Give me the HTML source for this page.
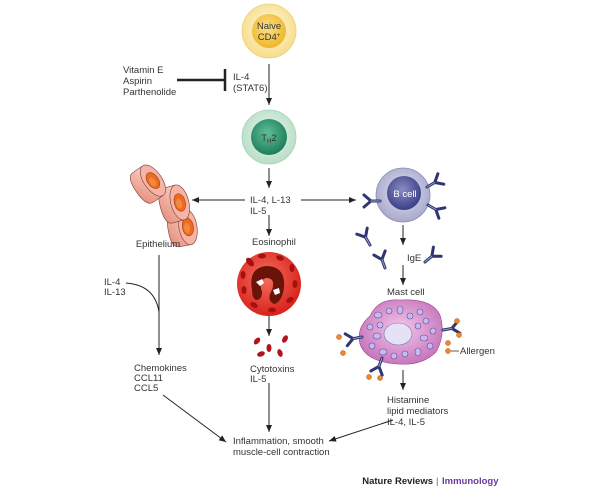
<!DOCTYPE html>
<html><head><meta charset="utf-8"><style>
html,body{margin:0;padding:0;background:#fff;width:600px;height:493px;overflow:hidden}
text{font-family:"Liberation Sans",sans-serif;font-size:9.5px;fill:#333}
</style></head><body>
<svg width="600" height="493" viewBox="0 0 600 493" xmlns="http://www.w3.org/2000/svg">
<defs>
<marker id="a" markerWidth="8" markerHeight="8" refX="7" refY="4" orient="auto" markerUnits="userSpaceOnUse"><path d="M0,1 L7,4 L0,7 z" fill="#222"/></marker>
<radialGradient id="gy" cx="50%" cy="45%" r="55%"><stop offset="0" stop-color="#fff9e0"/><stop offset="1" stop-color="#f7dd8a"/></radialGradient>
<radialGradient id="gyi" cx="45%" cy="40%" r="60%"><stop offset="0" stop-color="#fbe08a"/><stop offset="1" stop-color="#eeb62a"/></radialGradient>
<radialGradient id="gg" cx="50%" cy="45%" r="55%"><stop offset="0" stop-color="#eaf6ee"/><stop offset="1" stop-color="#b9dec6"/></radialGradient>
<radialGradient id="ggi" cx="45%" cy="40%" r="60%"><stop offset="0" stop-color="#5fbf98"/><stop offset="1" stop-color="#1f7e5a"/></radialGradient>
<radialGradient id="gb" cx="50%" cy="45%" r="55%"><stop offset="0" stop-color="#e4e4f2"/><stop offset="1" stop-color="#a8a8cc"/></radialGradient>
<radialGradient id="gbi" cx="45%" cy="40%" r="60%"><stop offset="0" stop-color="#8a8cc4"/><stop offset="1" stop-color="#3a3f88"/></radialGradient>
<radialGradient id="gr" cx="45%" cy="40%" r="60%"><stop offset="0" stop-color="#f47060"/><stop offset="1" stop-color="#d8221a"/></radialGradient>
<radialGradient id="gm" cx="50%" cy="45%" r="60%"><stop offset="0" stop-color="#f2c8ea"/><stop offset="1" stop-color="#c470b8"/></radialGradient>
<linearGradient id="ge" x1="0" y1="0" x2="1" y2="1"><stop offset="0" stop-color="#fbd0c4"/><stop offset="1" stop-color="#e48a78"/></linearGradient>
<g id="ab" stroke-linecap="round">
<path d="M0,0 L0,-9" stroke="#2e3570" stroke-width="3"/>
<path d="M0,-9 L-6,-16 M0,-9 L6,-16" stroke="#2e3570" stroke-width="3"/>
<path d="M0,0 L0,-9" stroke="#9aa0c8" stroke-width="1"/>
</g>
<g id="ec">
<path d="M-18,-6 L-18,6 Q-18,14 0,14 Q18,14 18,6 L18,-6 Z" fill="url(#ge)" stroke="#7a4036" stroke-width="0.6"/>
<ellipse cx="0" cy="-6" rx="18" ry="9" fill="#f6b4a6" stroke="#7a4036" stroke-width="0.6"/>
<ellipse cx="0" cy="-6" rx="9" ry="5.5" fill="#ee6a22" stroke="#a04010" stroke-width="0.6"/>
<ellipse cx="1" cy="-5" rx="5" ry="3" fill="#f08a40"/>
</g>
</defs>

<circle cx="269" cy="31" r="27" fill="url(#gy)" stroke="#e8cf80" stroke-width="0.8"/>
<circle cx="269" cy="31" r="17" fill="url(#gyi)"/>
<text x="269" y="29" text-anchor="middle" font-size="9">Naive</text>
<text x="269" y="40" text-anchor="middle" font-size="9">CD4<tspan font-size="6" dy="-3">+</tspan></text>
<line x1="269" y1="64" x2="269" y2="105" stroke="#222" stroke-width="1" marker-end="url(#a)"/>

<text x="123" y="73">Vitamin E</text>
<text x="123" y="84">Aspirin</text>
<text x="123" y="95">Parthenolide</text>
<line x1="177" y1="80" x2="225" y2="80" stroke="#222" stroke-width="2.5"/>
<line x1="225" y1="69" x2="225" y2="91" stroke="#222" stroke-width="2.5"/>
<text x="233" y="80">IL-4</text>
<text x="233" y="91">(STAT6)</text>

<circle cx="269" cy="137" r="27" fill="url(#gg)" stroke="#a8d2b6" stroke-width="0.8"/>
<circle cx="269" cy="137" r="18" fill="url(#ggi)"/>
<text x="269" y="141" text-anchor="middle" font-size="9">T<tspan font-size="6" dy="2">H</tspan><tspan dy="-2">2</tspan></text>
<line x1="269" y1="168" x2="269" y2="188" stroke="#222" stroke-width="1" marker-end="url(#a)"/>

<text x="250" y="203">IL-4, L-13</text>
<text x="250" y="214">IL-5</text>
<line x1="245" y1="200" x2="192" y2="200" stroke="#222" stroke-width="1" marker-end="url(#a)"/>
<line x1="301" y1="200" x2="356" y2="200" stroke="#222" stroke-width="1" marker-end="url(#a)"/>

<use href="#ec" transform="translate(182,228) rotate(80)"/>
<use href="#ec" transform="translate(174,204) rotate(75)"/>
<use href="#ec" transform="translate(148,184) rotate(55)"/>
<text x="158" y="247" text-anchor="middle">Epithelium</text>

<line x1="159" y1="255" x2="159" y2="355" stroke="#222" stroke-width="1" marker-end="url(#a)"/>
<text x="104" y="285">IL-4</text>
<text x="104" y="295">IL-13</text>
<path d="M126,283 Q155,285 159,312" fill="none" stroke="#222" stroke-width="1"/>
<text x="134" y="371">Chemokines</text>
<text x="134" y="381">CCL11</text>
<text x="134" y="391">CCL5</text>
<line x1="163" y1="395" x2="226" y2="442" stroke="#222" stroke-width="1" marker-end="url(#a)"/>

<text x="252" y="245">Eosinophil</text>
<line x1="269" y1="215" x2="269" y2="236" stroke="#222" stroke-width="1" marker-end="url(#a)"/>
<circle cx="269" cy="284" r="32" fill="url(#gr)"/>
<g fill="#a81010">
<ellipse cx="250" cy="262" rx="3" ry="5" transform="rotate(-40 250 262)"/>
<ellipse cx="262" cy="256" rx="4" ry="2.5"/>
<ellipse cx="280" cy="258" rx="4" ry="2.5" transform="rotate(20 280 258)"/>
<ellipse cx="292" cy="268" rx="2.5" ry="4"/>
<ellipse cx="295" cy="284" rx="2.5" ry="4"/>
<ellipse cx="290" cy="300" rx="4" ry="2.5" transform="rotate(-30 290 300)"/>
<ellipse cx="272" cy="310" rx="4" ry="2.5"/>
<ellipse cx="254" cy="305" rx="4" ry="2.5" transform="rotate(30 254 305)"/>
<ellipse cx="244" cy="290" rx="2.5" ry="4"/>
<ellipse cx="243" cy="275" rx="2.5" ry="4"/>
</g>
<path d="M252,290 Q248,268 266,266 Q286,266 284,288 Q282,302 274,304 Q266,300 272,290 Q276,278 266,278 Q258,280 262,292 Q262,300 256,300 Q252,298 252,290z" fill="#6a1408"/>
<path d="M256,282 l6,-3 l2,4 l-4,3z M273,290 l6,-2 l1,5 l-5,2z" fill="#fff"/>
<line x1="269" y1="316" x2="269" y2="336" stroke="#222" stroke-width="1" marker-end="url(#a)"/>
<g fill="#b0141a">
<ellipse cx="257" cy="341" rx="2.5" ry="4" transform="rotate(40 257 341)"/>
<ellipse cx="285" cy="339" rx="2.5" ry="4" transform="rotate(30 285 339)"/>
<ellipse cx="269" cy="348" rx="2.5" ry="4"/>
<ellipse cx="261" cy="354" rx="4" ry="2.5" transform="rotate(-20 261 354)"/>
<ellipse cx="280" cy="353" rx="2.5" ry="4" transform="rotate(-20 280 353)"/>
</g>
<text x="250" y="372">Cytotoxins</text>
<text x="250" y="382">IL-5</text>
<line x1="269" y1="383" x2="269" y2="432" stroke="#222" stroke-width="1" marker-end="url(#a)"/>
<text x="233" y="444">Inflammation, smooth</text>
<text x="233" y="455">muscle-cell contraction</text>

<circle cx="403" cy="195" r="27" fill="url(#gb)" stroke="#8c8cb8" stroke-width="0.8"/>
<circle cx="404" cy="193" r="17" fill="url(#gbi)"/>
<text x="405" y="197" text-anchor="middle" font-size="9" style="fill:#fff">B cell</text>
<use href="#ab" transform="translate(380,201) rotate(-90)"/>
<use href="#ab" transform="translate(427,187) rotate(60)"/>
<use href="#ab" transform="translate(428,205) rotate(120)"/>
<line x1="403" y1="225" x2="403" y2="245" stroke="#222" stroke-width="1" marker-end="url(#a)"/>
<use href="#ab" transform="translate(370,245) rotate(-30)"/>
<use href="#ab" transform="translate(385,268) rotate(-20)"/>
<use href="#ab" transform="translate(425,262) rotate(50)"/>
<text x="407" y="261">IgE</text>
<line x1="403" y1="265" x2="403" y2="285" stroke="#222" stroke-width="1" marker-end="url(#a)"/>
<text x="387" y="295">Mast cell</text>

<path d="M370,316 Q378,298 400,300 Q432,298 440,315 Q446,335 436,352 Q422,366 398,364 Q366,362 360,344 Q356,328 370,316z" fill="url(#gm)" stroke="#9a4a90" stroke-width="0.6"/>
<ellipse cx="398" cy="334" rx="14" ry="11" fill="#e6e2f6" stroke="#8070b0" stroke-width="0.6"/>
<g fill="#c8b8ec" stroke="#6050a0" stroke-width="0.6">
<ellipse cx="378" cy="315" rx="4" ry="3"/><ellipse cx="389" cy="311" rx="3" ry="3"/><ellipse cx="400" cy="310" rx="3" ry="4"/>
<ellipse cx="410" cy="316" rx="3" ry="3"/><ellipse cx="420" cy="312" rx="3" ry="3"/><ellipse cx="426" cy="321" rx="3" ry="3"/>
<ellipse cx="418" cy="326" rx="3" ry="3"/><ellipse cx="433" cy="331" rx="3" ry="3"/><ellipse cx="424" cy="338" rx="4" ry="3"/>
<ellipse cx="430" cy="346" rx="3" ry="3"/><ellipse cx="418" cy="352" rx="3" ry="4"/><ellipse cx="405" cy="354" rx="3" ry="3"/>
<ellipse cx="394" cy="356" rx="3" ry="3"/><ellipse cx="383" cy="352" rx="4" ry="3"/><ellipse cx="372" cy="346" rx="3" ry="3"/>
<ellipse cx="377" cy="336" rx="4" ry="3"/><ellipse cx="370" cy="327" rx="3" ry="3"/><ellipse cx="380" cy="325" rx="3" ry="3"/>
</g>
<use href="#ab" transform="translate(362,337) rotate(-100)"/>
<use href="#ab" transform="translate(382,358) rotate(-160)"/>
<use href="#ab" transform="translate(443,330) rotate(80)"/>
<g fill="#f0882a" stroke="#b05010" stroke-width="0.5">
<circle cx="339" cy="337" r="2.5"/><circle cx="343" cy="353" r="2.5"/>
<circle cx="369" cy="377" r="2.5"/><circle cx="380" cy="378" r="2.5"/>
<circle cx="457" cy="321" r="2.5"/><circle cx="459" cy="335" r="2.5"/>
<circle cx="448" cy="343" r="2.5"/><circle cx="448" cy="351" r="2.5"/>
</g>
<line x1="451" y1="351" x2="459" y2="351" stroke="#333" stroke-width="0.8"/>
<text x="460" y="354">Allergen</text>
<line x1="403" y1="370" x2="403" y2="390" stroke="#222" stroke-width="1" marker-end="url(#a)"/>
<text x="387" y="403">Histamine</text>
<text x="387" y="414">lipid mediators</text>
<text x="387" y="425">IL-4, IL-5</text>
<line x1="393" y1="420" x2="329" y2="441" stroke="#222" stroke-width="1" marker-end="url(#a)"/>

<text x="433" y="484" text-anchor="end" font-weight="bold" font-size="9" style="fill:#222">Nature Reviews</text>
<text x="436" y="484" font-size="9" style="fill:#666">|</text>
<text x="442" y="484" font-weight="bold" font-size="9" style="fill:#6a3aa0">Immunology</text>
</svg>
</body></html>
